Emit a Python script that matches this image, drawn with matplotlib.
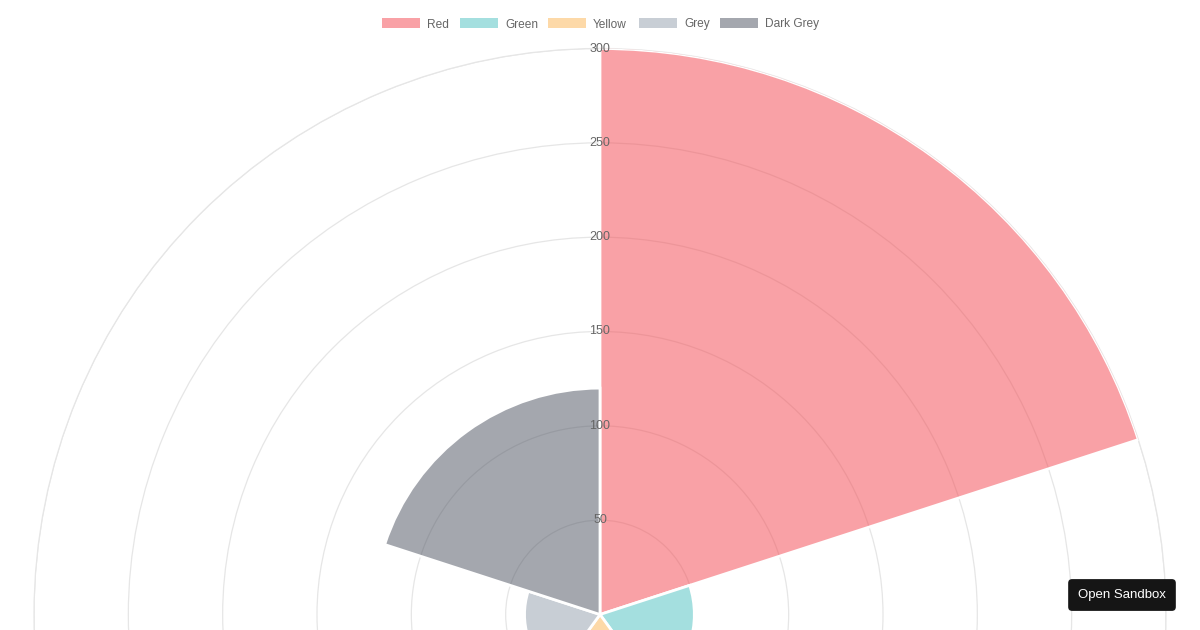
import matplotlib.pyplot as plt
import matplotlib.patches as mpatches
from matplotlib.colors import to_rgba
import numpy as np

plt.rcParams['font.family'] = ['Liberation Sans', 'DejaVu Sans']

## Данные
labels = ['Red', 'Green', 'Yellow', 'Grey', 'Dark Grey']
values = [300, 50, 100, 40, 120]
colors = ['#f4454e', '#4bc0c0', '#fdb452', '#939fad', '#4b515f']
ticks = [50, 100, 150, 200, 250, 300]

W, H = 1200, 630
cx, cy, R = 600, 614.5, 566

fill = [to_rgba(c, 0.5) for c in colors]

fig = plt.figure(figsize=(W / 100, H / 100), dpi=100)
ax = fig.add_axes([(cx - R) / W, (H - cy - R) / H, 2 * R / W, 2 * R / H],
                  projection='polar')
ax.set_theta_zero_location('N')
ax.set_theta_direction(-1)
ax.set_ylim(0, 300)

## Сетка (под секторами, просвечивает)
ax.set_xticks([])
ax.set_yticks(ticks)
ax.set_yticklabels([])
ax.yaxis.grid(True, color='#e6e6e6', linewidth=0.9)
ax.xaxis.grid(False)
ax.spines['polar'].set_color('#e6e6e6')
ax.spines['polar'].set_linewidth(0.9)
ax.spines['polar'].set_zorder(0.5)
ax.set_axisbelow(True)

## Сектора
n = len(values)
width = 2 * np.pi / n
theta = np.arange(n) * width
ax.bar(theta, values, width=width, align='edge', color=fill,
       edgecolor='white', linewidth=2, zorder=2)

for t in ticks:
    ax.text(0, t, str(t), ha='center', va='center', fontsize=9,
            color='#666666', zorder=4)

## Легенда (вручную, как в Chart.js)
box_x = [382, 460, 548, 639, 720]
for bx, c, lab in zip(box_x, fill, labels):
    fig.patches.append(mpatches.Rectangle((bx / W, 1 - 28 / H), 38 / W, 10 / H,
                                          transform=fig.transFigure, facecolor=c,
                                          edgecolor='none'))
    fig.text((bx + 45) / W, 1 - 27.5 / H, lab, ha='left', va='baseline',
             fontsize=8.6, color='#666666')

## Кнопка
fig.text(1122 / W, 1 - 595 / H, 'Open Sandbox', ha='center', va='center',
         fontsize=9.5, color='white',
         bbox=dict(boxstyle='round,pad=0.75,rounding_size=0.3',
                   facecolor='#151515', edgecolor='none'))

fig.savefig('out.png', dpi=100)
